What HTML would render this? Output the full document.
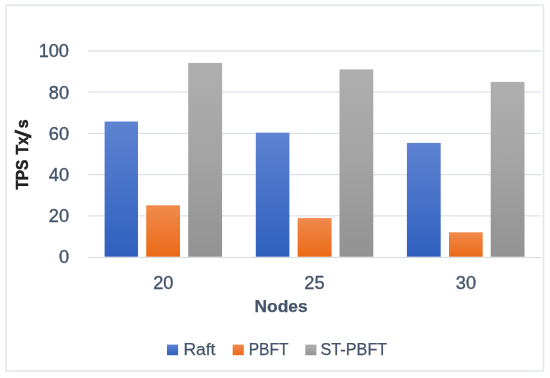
<!DOCTYPE html>
<html><head><meta charset="utf-8"><title>TPS chart</title>
<style>
html,body{margin:0;padding:0;background:#fff;}
body{width:550px;height:378px;overflow:hidden;}
svg{display:block;font-family:"Liberation Sans",sans-serif;}
</style></head>
<body>
<svg width="550" height="378" viewBox="0 0 550 378">
<defs>
<linearGradient id="gb" x1="0" y1="0" x2="0" y2="1"><stop offset="0" stop-color="#5D83D1"/><stop offset="1" stop-color="#2F60BF"/></linearGradient>
<linearGradient id="go" x1="0" y1="0" x2="0" y2="1"><stop offset="0" stop-color="#F08A4B"/><stop offset="1" stop-color="#EB6A18"/></linearGradient>
<linearGradient id="gg" x1="0" y1="0" x2="0" y2="1"><stop offset="0" stop-color="#AFAFAF"/><stop offset="0.5" stop-color="#A3A3A3"/><stop offset="1" stop-color="#929292"/></linearGradient>
</defs>
<rect x="0" y="0" width="550" height="378" fill="#fff"/>
<rect x="6.1" y="5.2" width="537.4" height="365.8" fill="#fff" stroke="#E0E5EA" stroke-width="1.5"/>
<g stroke="#DDE2E8" stroke-width="1.3">
<line x1="88.2" y1="51" x2="541.3" y2="51"/>
<line x1="88.2" y1="92.2" x2="541.3" y2="92.2"/>
<line x1="88.2" y1="133.4" x2="541.3" y2="133.4"/>
<line x1="88.2" y1="174.6" x2="541.3" y2="174.6"/>
<line x1="88.2" y1="215.8" x2="541.3" y2="215.8"/>
<line x1="88" y1="257.4" x2="541.3" y2="257.4" stroke="#D3D9DF" stroke-width="1"/>
</g>
<g>
<rect x="104.6" y="121.5" width="33.4" height="135.2" fill="url(#gb)"/>
<rect x="146.2" y="205.3" width="33.8" height="51.4" fill="url(#go)"/>
<rect x="188.2" y="62.9" width="33.9" height="193.8" fill="url(#gg)"/>
<rect x="255.8" y="132.7" width="33.6" height="124" fill="url(#gb)"/>
<rect x="297.6" y="218.1" width="34" height="38.6" fill="url(#go)"/>
<rect x="339.5" y="69.4" width="33.8" height="187.3" fill="url(#gg)"/>
<rect x="406.9" y="142.9" width="33.8" height="113.8" fill="url(#gb)"/>
<rect x="449" y="232.3" width="33.7" height="24.4" fill="url(#go)"/>
<rect x="490.7" y="81.9" width="33.8" height="174.8" fill="url(#gg)"/>
</g>
<g fill="#44546A" stroke="#44546A" stroke-width="0.35" font-size="18.2" text-anchor="end">
<text x="69" y="57.3">100</text>
<text x="69" y="98.5">80</text>
<text x="69" y="139.7">60</text>
<text x="69" y="180.9">40</text>
<text x="69" y="222.1">20</text>
<text x="69" y="263.4">0</text>
</g>
<g fill="#44546A" stroke="#44546A" stroke-width="0.35" font-size="18.2" text-anchor="middle">
<text x="163.3" y="288.9">20</text>
<text x="314.4" y="288.9">25</text>
<text x="465.9" y="288.9">30</text>
</g>
<text x="281.1" y="312.3" fill="#44546A" stroke="#44546A" stroke-width="0.25" font-size="17" font-weight="bold" text-anchor="middle" textLength="53.2" lengthAdjust="spacingAndGlyphs">Nodes</text>
<text transform="translate(28.4,0) rotate(-90)" fill="#1f1f1f" stroke="#1f1f1f" stroke-width="0.5" font-size="17.4" font-weight="bold"><tspan x="-189.6" y="0" textLength="30" lengthAdjust="spacingAndGlyphs">TPS</tspan> <tspan x="-154.4" y="0" textLength="9.7" lengthAdjust="spacingAndGlyphs">T</tspan><tspan x="-144.7" y="0" textLength="8.1" lengthAdjust="spacingAndGlyphs">x</tspan><tspan x="-137.8" y="2.6" font-size="21.6" font-weight="normal" stroke-width="0.7" textLength="7.6" lengthAdjust="spacingAndGlyphs">/</tspan><tspan x="-128.3" y="0" textLength="8.8" lengthAdjust="spacingAndGlyphs">s</tspan></text>
<rect x="167" y="344.6" width="11.1" height="10.6" fill="url(#gb)"/>
<rect x="232.7" y="344.6" width="11.1" height="10.6" fill="url(#go)"/>
<rect x="305.3" y="344.6" width="11.1" height="10.6" fill="url(#gg)"/>
<g fill="#44546A" stroke="#44546A" stroke-width="0.25" font-size="16.8">
<text x="183.4" y="355.4" textLength="32.1" lengthAdjust="spacingAndGlyphs">Raft</text>
<text x="248.7" y="355.4" textLength="39.8" lengthAdjust="spacingAndGlyphs">PBFT</text>
<text x="320.5" y="355.4" textLength="66.7" lengthAdjust="spacingAndGlyphs">ST-PBFT</text>
</g>
</svg>
</body></html>
